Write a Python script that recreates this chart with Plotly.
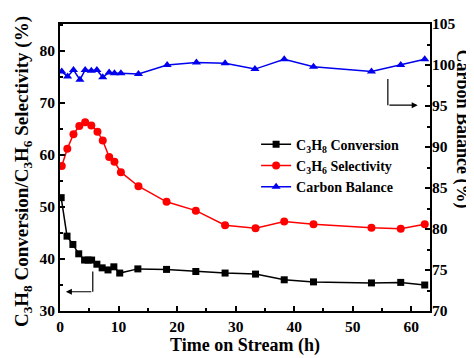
import plotly.graph_objects as go

time_conv = [0.2, 1.2, 2.2, 3.2, 4.2, 4.8, 5.4, 6.3, 7.2, 8.2, 9.2, 10.2, 13.3, 18.2, 23.2, 28.2, 33.4, 38.3, 43.3, 53.2, 58.2, 62.3]
conversion = [51.8, 44.4, 42.8, 41.0, 39.8, 39.8, 39.8, 39.0, 38.3, 37.9, 38.5, 37.3, 38.1, 38.0, 37.6, 37.3, 37.1, 36.0, 35.6, 35.4, 35.5, 35.0]

time_sel = [0.3, 1.25, 2.3, 3.3, 4.3, 5.35, 6.4, 7.3, 8.4, 9.3, 10.4, 13.4, 18.2, 23.2, 28.2, 33.4, 38.3, 43.3, 53.2, 58.2, 62.3]
selectivity = [57.9, 61.2, 64.0, 65.6, 66.3, 65.7, 64.5, 62.8, 59.6, 58.7, 56.7, 54.0, 51.0, 49.3, 46.5, 45.9, 47.2, 46.7, 46.0, 45.8, 46.7]

time_cb = [0.3, 1.3, 2.3, 3.4, 4.3, 5.35, 6.3, 7.3, 8.4, 9.3, 10.4, 13.4, 18.3, 23.3, 28.2, 33.3, 38.3, 43.3, 53.2, 58.2, 62.3]
carbon_balance = [99.2, 98.6, 99.4, 98.2, 99.4, 99.3, 99.4, 98.5, 99.1, 99.0, 99.0, 98.9, 100.0, 100.3, 100.2, 99.5, 100.7, 99.8, 99.2, 100.0, 100.7]

FONT = "Times New Roman, Liberation Serif, serif"

fig = go.Figure()
fig.add_trace(go.Scatter(x=time_conv, y=conversion, mode="lines+markers",
                         name="C<sub>3</sub>H<sub>8</sub> Conversion",
                         line=dict(color="black", width=1.5),
                         marker=dict(symbol="square", size=7, color="black")))
fig.add_trace(go.Scatter(x=time_sel, y=selectivity, mode="lines+markers",
                         name="C<sub>3</sub>H<sub>6</sub> Selectivity",
                         line=dict(color="red", width=1.5),
                         marker=dict(symbol="circle", size=8, color="red")))
fig.add_trace(go.Scatter(x=time_cb, y=carbon_balance, mode="lines+markers",
                         name="Carbon Balance", yaxis="y2",
                         line=dict(color="#0000ee", width=1.5),
                         marker=dict(symbol="triangle-up", size=8, color="#0000ee")))

axis_common = dict(showline=True, linecolor="black", linewidth=2, ticks="inside",
                   ticklen=5, tickwidth=1.5, tickcolor="black", showgrid=False, zeroline=False,
                   tickfont=dict(family=FONT, size=15.5, color="black", weight="bold"))

fig.update_layout(
    width=474, height=358,
    margin=dict(l=52, r=52, t=7, b=55),
    plot_bgcolor="white", paper_bgcolor="white",
    font=dict(family=FONT, color="black", weight="bold"),
    xaxis=dict(range=[0, 63.2], dtick=10, tick0=0, mirror=True,
               minor=dict(dtick=5, ticks="inside", ticklen=3, tickcolor="black"),
               title=dict(text="Time on Stream (h)", font=dict(family=FONT, size=18, weight="bold"), standoff=2),
               **axis_common),
    yaxis=dict(range=[30, 85.2], dtick=10, tick0=30,
               minor=dict(dtick=5, ticks="inside", ticklen=3, tickcolor="black"),
               **axis_common),
    yaxis2=dict(range=[70, 105], dtick=5, tick0=70, overlaying="y", side="right",
                minor=dict(dtick=2.5, ticks="inside", ticklen=3, tickcolor="black"),
                ticklabelstandoff=-3,
                **axis_common),
    showlegend=True,
    legend=dict(x=0.53, y=0.635, xanchor="left", yanchor="top", bgcolor="rgba(0,0,0,0)",
                font=dict(family=FONT, size=14, color="black", weight="bold"),
                tracegroupgap=0, itemwidth=30),
)

# left-axis title (reads bottom to top)
fig.add_annotation(text="C<sub>3</sub>H<sub>8</sub> Conversion/C<sub>3</sub>H<sub>6</sub> Selectivity (%)",
                   xref="paper", yref="paper", x=-0.1, y=0.484, textangle=-90,
                   showarrow=False, xanchor="center", yanchor="middle",
                   font=dict(family=FONT, size=19, color="black", weight="bold"))
# right-axis title (reads top to bottom)
fig.add_annotation(text="Carbon Balance (%)", xref="paper", yref="paper", x=1.087, y=0.635,
                   textangle=90, showarrow=False, xanchor="center", yanchor="middle",
                   font=dict(family=FONT, size=18, color="black", weight="bold"))

# indicator arrows
fig.add_shape(type="line", xref="x", yref="y", x0=5.6, x1=5.6, y0=37.6, y1=33.7,
              line=dict(color="black", width=1.2))
fig.add_annotation(xref="x", yref="y", axref="x", ayref="y", x=1.0, y=33.7, ax=5.6, ay=33.7,
                   showarrow=True, arrowhead=2, arrowsize=1, arrowwidth=1.2, arrowcolor="black", text="")
fig.add_shape(type="line", xref="x", yref="y2", x0=56.0, x1=56.0, y0=98.3, y1=95.1,
              line=dict(color="black", width=1.2))
fig.add_annotation(xref="x", yref="y2", axref="x", ayref="y2", x=61.1, y=95.1, ax=56.0, ay=95.1,
                   showarrow=True, arrowhead=2, arrowsize=1, arrowwidth=1.2, arrowcolor="black", text="")

fig.write_html("out.html")
